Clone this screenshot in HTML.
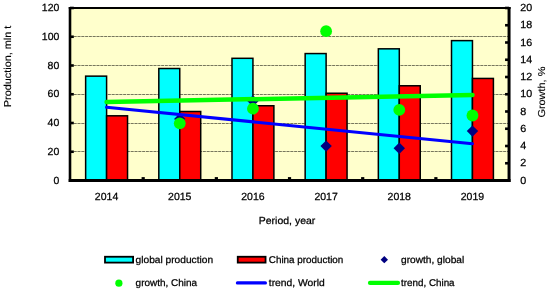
<!DOCTYPE html>
<html lang="en"><head><meta charset="utf-8"><title>Production and growth chart</title>
<style>html,body{margin:0;padding:0;background:#fff}body{width:550px;height:290px;overflow:hidden}svg{display:block}text{font-family:"Liberation Sans",sans-serif;font-size:10.4px;fill:#000;stroke:#000;stroke-width:0.25px;text-rendering:geometricPrecision}</style></head><body>
<svg width="550" height="290" viewBox="0 0 550 290">
<rect x="0" y="0" width="550" height="290" fill="#ffffff"/>
<rect x="70.00" y="8.00" width="439.05" height="172.50" fill="#ffffcc"/>
<line x1="70.00" y1="151.50" x2="509.05" y2="151.50" stroke="#dcdcb4" stroke-width="1"/>
<line x1="70.00" y1="151.50" x2="509.05" y2="151.50" stroke="#77775c" stroke-width="1" stroke-dasharray="2.8 1"/>
<line x1="70.00" y1="123.50" x2="509.05" y2="123.50" stroke="#dcdcb4" stroke-width="1"/>
<line x1="70.00" y1="123.50" x2="509.05" y2="123.50" stroke="#77775c" stroke-width="1" stroke-dasharray="2.8 1"/>
<line x1="70.00" y1="94.50" x2="509.05" y2="94.50" stroke="#dcdcb4" stroke-width="1"/>
<line x1="70.00" y1="94.50" x2="509.05" y2="94.50" stroke="#77775c" stroke-width="1" stroke-dasharray="2.8 1"/>
<line x1="70.00" y1="65.50" x2="509.05" y2="65.50" stroke="#dcdcb4" stroke-width="1"/>
<line x1="70.00" y1="65.50" x2="509.05" y2="65.50" stroke="#77775c" stroke-width="1" stroke-dasharray="2.8 1"/>
<line x1="70.00" y1="36.50" x2="509.05" y2="36.50" stroke="#dcdcb4" stroke-width="1"/>
<line x1="70.00" y1="36.50" x2="509.05" y2="36.50" stroke="#77775c" stroke-width="1" stroke-dasharray="2.8 1"/>
<rect x="85.64" y="76.14" width="20.95" height="104.36" fill="#00ffff" stroke="#000" stroke-width="1.5"/>
<rect x="106.59" y="115.81" width="20.95" height="64.69" fill="#ff0000" stroke="#000" stroke-width="1.5"/>
<rect x="158.81" y="68.52" width="20.95" height="111.98" fill="#00ffff" stroke="#000" stroke-width="1.5"/>
<rect x="179.76" y="111.50" width="20.95" height="69.00" fill="#ff0000" stroke="#000" stroke-width="1.5"/>
<rect x="231.99" y="58.31" width="20.95" height="122.19" fill="#00ffff" stroke="#000" stroke-width="1.5"/>
<rect x="252.94" y="105.75" width="20.95" height="74.75" fill="#ff0000" stroke="#000" stroke-width="1.5"/>
<rect x="305.16" y="53.57" width="20.95" height="126.93" fill="#00ffff" stroke="#000" stroke-width="1.5"/>
<rect x="326.11" y="93.24" width="20.95" height="87.26" fill="#ff0000" stroke="#000" stroke-width="1.5"/>
<rect x="378.34" y="48.83" width="20.95" height="131.67" fill="#00ffff" stroke="#000" stroke-width="1.5"/>
<rect x="399.29" y="85.77" width="20.95" height="94.73" fill="#ff0000" stroke="#000" stroke-width="1.5"/>
<rect x="451.51" y="40.63" width="20.95" height="139.87" fill="#00ffff" stroke="#000" stroke-width="1.5"/>
<rect x="472.46" y="78.44" width="20.95" height="102.06" fill="#ff0000" stroke="#000" stroke-width="1.5"/>
<line x1="68.80" y1="8.00" x2="510.55" y2="8.00" stroke="#000" stroke-width="2"/>
<line x1="70.00" y1="7.00" x2="70.00" y2="182.00" stroke="#000" stroke-width="2.6"/>
<line x1="509.05" y1="7.00" x2="509.05" y2="182.00" stroke="#000" stroke-width="3"/>
<line x1="68.70" y1="180.50" x2="510.55" y2="180.50" stroke="#000" stroke-width="3"/>
<line x1="70.00" y1="180.50" x2="73.80" y2="180.50" stroke="#000" stroke-width="2.6"/>
<line x1="70.00" y1="151.75" x2="73.80" y2="151.75" stroke="#000" stroke-width="2.6"/>
<line x1="70.00" y1="123.00" x2="73.80" y2="123.00" stroke="#000" stroke-width="2.6"/>
<line x1="70.00" y1="94.25" x2="73.80" y2="94.25" stroke="#000" stroke-width="2.6"/>
<line x1="70.00" y1="65.50" x2="73.80" y2="65.50" stroke="#000" stroke-width="2.6"/>
<line x1="70.00" y1="36.75" x2="73.80" y2="36.75" stroke="#000" stroke-width="2.6"/>
<line x1="70.00" y1="8.00" x2="73.80" y2="8.00" stroke="#000" stroke-width="2.6"/>
<line x1="505.05" y1="180.50" x2="509.05" y2="180.50" stroke="#000" stroke-width="2.6"/>
<line x1="505.05" y1="163.25" x2="509.05" y2="163.25" stroke="#000" stroke-width="2.6"/>
<line x1="505.05" y1="146.00" x2="509.05" y2="146.00" stroke="#000" stroke-width="2.6"/>
<line x1="505.05" y1="128.75" x2="509.05" y2="128.75" stroke="#000" stroke-width="2.6"/>
<line x1="505.05" y1="111.50" x2="509.05" y2="111.50" stroke="#000" stroke-width="2.6"/>
<line x1="505.05" y1="94.25" x2="509.05" y2="94.25" stroke="#000" stroke-width="2.6"/>
<line x1="505.05" y1="77.00" x2="509.05" y2="77.00" stroke="#000" stroke-width="2.6"/>
<line x1="505.05" y1="59.75" x2="509.05" y2="59.75" stroke="#000" stroke-width="2.6"/>
<line x1="505.05" y1="42.50" x2="509.05" y2="42.50" stroke="#000" stroke-width="2.6"/>
<line x1="505.05" y1="25.25" x2="509.05" y2="25.25" stroke="#000" stroke-width="2.6"/>
<line x1="505.05" y1="8.00" x2="509.05" y2="8.00" stroke="#000" stroke-width="2.6"/>
<line x1="143.18" y1="177.10" x2="143.18" y2="180.50" stroke="#000" stroke-width="3.2"/>
<line x1="216.35" y1="177.10" x2="216.35" y2="180.50" stroke="#000" stroke-width="3.2"/>
<line x1="289.52" y1="177.10" x2="289.52" y2="180.50" stroke="#000" stroke-width="3.2"/>
<line x1="362.70" y1="177.10" x2="362.70" y2="180.50" stroke="#000" stroke-width="3.2"/>
<line x1="435.88" y1="177.10" x2="435.88" y2="180.50" stroke="#000" stroke-width="3.2"/>
<polygon points="179.76,113.20 185.46,118.90 179.76,124.60 174.06,118.90" fill="#000080"/>
<polygon points="252.94,95.30 258.64,101.00 252.94,106.70 247.24,101.00" fill="#000080"/>
<polygon points="326.11,140.40 331.81,146.10 326.11,151.80 320.41,146.10" fill="#000080"/>
<polygon points="399.29,142.60 404.99,148.30 399.29,154.00 393.59,148.30" fill="#000080"/>
<polygon points="472.46,125.40 478.16,131.10 472.46,136.80 466.76,131.10" fill="#000080"/>
<circle cx="179.76" cy="123.30" r="5.9" fill="#00ff00"/>
<circle cx="252.94" cy="108.70" r="5.9" fill="#00ff00"/>
<circle cx="326.11" cy="31.20" r="5.9" fill="#00ff00"/>
<circle cx="399.29" cy="109.90" r="5.9" fill="#00ff00"/>
<circle cx="472.46" cy="115.50" r="5.9" fill="#00ff00"/>
<line x1="106.59" y1="107.3" x2="472.46" y2="143.7" stroke="#0000ff" stroke-width="3.1" stroke-linecap="round"/>
<line x1="106.59" y1="102.0" x2="472.46" y2="94.9" stroke="#00ff00" stroke-width="4.5" stroke-linecap="round"/>
<text x="59.30" y="183.70" text-anchor="end" textLength="5.8" lengthAdjust="spacingAndGlyphs">0</text>
<text x="59.30" y="154.95" text-anchor="end" textLength="11.7" lengthAdjust="spacingAndGlyphs">20</text>
<text x="59.30" y="126.20" text-anchor="end" textLength="11.7" lengthAdjust="spacingAndGlyphs">40</text>
<text x="59.30" y="97.45" text-anchor="end" textLength="11.7" lengthAdjust="spacingAndGlyphs">60</text>
<text x="59.30" y="68.70" text-anchor="end" textLength="11.7" lengthAdjust="spacingAndGlyphs">80</text>
<text x="59.30" y="39.95" text-anchor="end" textLength="17.5" lengthAdjust="spacingAndGlyphs">100</text>
<text x="59.30" y="11.20" text-anchor="end" textLength="17.5" lengthAdjust="spacingAndGlyphs">120</text>
<text x="520.20" y="183.70" textLength="6.0" lengthAdjust="spacingAndGlyphs">0</text>
<text x="520.20" y="166.45" textLength="6.0" lengthAdjust="spacingAndGlyphs">2</text>
<text x="520.20" y="149.20" textLength="6.0" lengthAdjust="spacingAndGlyphs">4</text>
<text x="520.20" y="131.95" textLength="6.0" lengthAdjust="spacingAndGlyphs">6</text>
<text x="520.20" y="114.70" textLength="6.0" lengthAdjust="spacingAndGlyphs">8</text>
<text x="520.20" y="97.45" textLength="11.9" lengthAdjust="spacingAndGlyphs">10</text>
<text x="520.20" y="80.20" textLength="11.9" lengthAdjust="spacingAndGlyphs">12</text>
<text x="520.20" y="62.95" textLength="11.9" lengthAdjust="spacingAndGlyphs">14</text>
<text x="520.20" y="45.70" textLength="11.9" lengthAdjust="spacingAndGlyphs">16</text>
<text x="520.20" y="28.45" textLength="11.9" lengthAdjust="spacingAndGlyphs">18</text>
<text x="520.20" y="11.20" textLength="11.9" lengthAdjust="spacingAndGlyphs">20</text>
<text x="106.59" y="199.90" text-anchor="middle" textLength="23.4" lengthAdjust="spacingAndGlyphs">2014</text>
<text x="179.76" y="199.90" text-anchor="middle" textLength="23.4" lengthAdjust="spacingAndGlyphs">2015</text>
<text x="252.94" y="199.90" text-anchor="middle" textLength="23.4" lengthAdjust="spacingAndGlyphs">2016</text>
<text x="326.11" y="199.90" text-anchor="middle" textLength="23.4" lengthAdjust="spacingAndGlyphs">2017</text>
<text x="399.29" y="199.90" text-anchor="middle" textLength="23.4" lengthAdjust="spacingAndGlyphs">2018</text>
<text x="472.46" y="199.90" text-anchor="middle" textLength="23.4" lengthAdjust="spacingAndGlyphs">2019</text>
<text x="258.80" y="223.80" textLength="56.5" lengthAdjust="spacingAndGlyphs" style="font-size:10.2px">Period, year</text>
<text style="font-size:10.1px;stroke-width:0.12px" transform="translate(11.3,107.2) rotate(-90)" textLength="81.5" lengthAdjust="spacingAndGlyphs">Production, mln t</text>
<text style="font-size:10.1px;stroke-width:0.12px" transform="translate(545.3,117.6) rotate(-90)" textLength="51" lengthAdjust="spacingAndGlyphs">Growth, %</text>
<rect x="105.0" y="256.75" width="28.1" height="5.85" fill="#00ffff" stroke="#000" stroke-width="1.8"/>
<text x="135.60" y="262.80" textLength="77.5" lengthAdjust="spacingAndGlyphs" style="font-size:9.8px">global production</text>
<rect x="237.75" y="256.75" width="27.8" height="5.85" fill="#ff0000" stroke="#000" stroke-width="1.8"/>
<text x="268.80" y="262.80" textLength="74.5" lengthAdjust="spacingAndGlyphs" style="font-size:9.8px">China production</text>
<polygon points="384.3,255.95 388,259.65 384.3,263.35 380.6,259.65" fill="#000080"/>
<text x="401.00" y="262.80" textLength="63.2" lengthAdjust="spacingAndGlyphs" style="font-size:9.8px">growth, global</text>
<circle cx="118.9" cy="283.2" r="3.6" fill="#00ff00"/>
<text x="135.60" y="286.00" textLength="61.5" lengthAdjust="spacingAndGlyphs" style="font-size:9.8px">growth, China</text>
<line x1="237.4" y1="282.9" x2="265.4" y2="282.9" stroke="#0000ff" stroke-width="3.2" stroke-linecap="round"/>
<text x="268.80" y="286.00" textLength="56.0" lengthAdjust="spacingAndGlyphs" style="font-size:9.8px">trend, World</text>
<line x1="370.0" y1="282.95" x2="398.0" y2="282.95" stroke="#00ff00" stroke-width="4.2" stroke-linecap="round"/>
<text x="401.00" y="286.00" textLength="53.6" lengthAdjust="spacingAndGlyphs" style="font-size:9.8px">trend, China</text>
</svg></body></html>
